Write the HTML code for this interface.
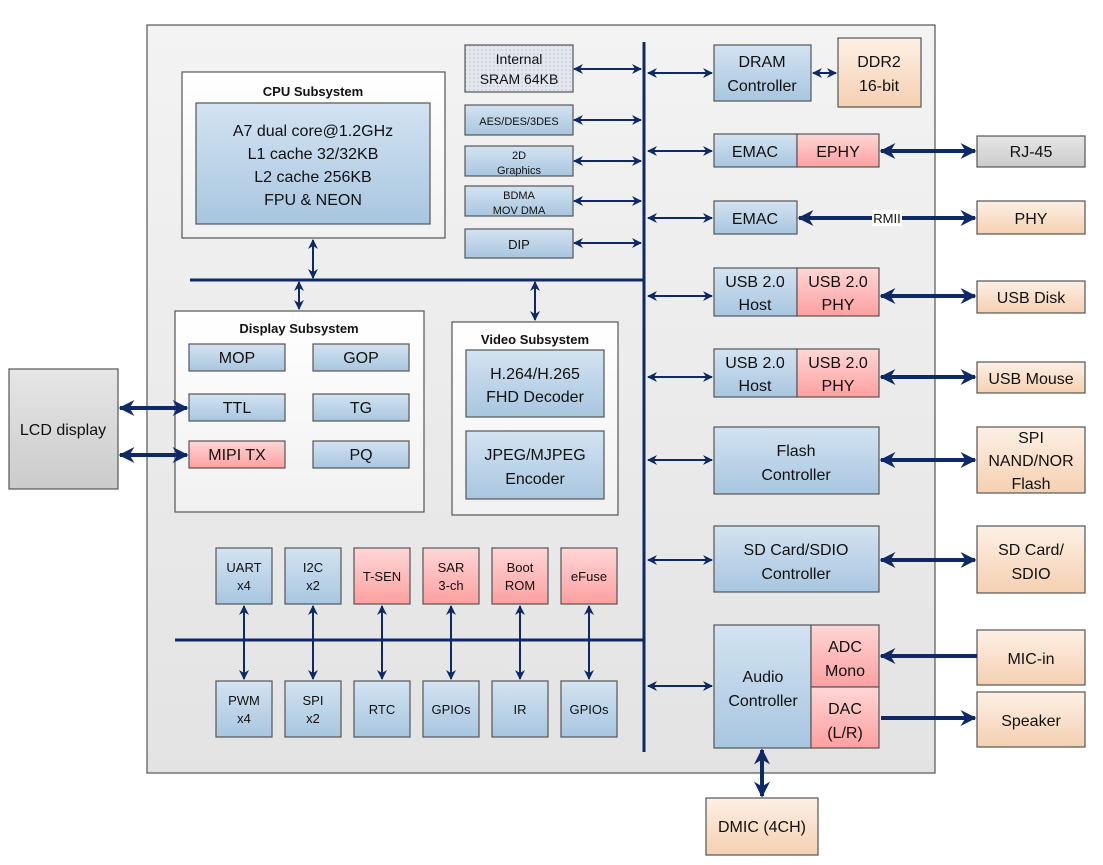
<!DOCTYPE html>
<html><head><meta charset="utf-8"><style>
html,body{margin:0;padding:0;background:#fff;}
svg{display:block;}
text{font-family:"Liberation Sans",sans-serif;fill:#111;text-anchor:middle;}
</style></head><body>
<svg width="1103" height="865" viewBox="0 0 1103 865" xmlns="http://www.w3.org/2000/svg">
<defs>
<linearGradient id="bl" x1="0" y1="0" x2="0" y2="1"><stop offset="0" stop-color="#d3e3f1"/><stop offset="1" stop-color="#a8c6e0"/></linearGradient>
<linearGradient id="pk" x1="0" y1="0" x2="0" y2="1"><stop offset="0" stop-color="#ffd6d6"/><stop offset="1" stop-color="#fda0a0"/></linearGradient>
<linearGradient id="or" x1="0" y1="0" x2="0" y2="1"><stop offset="0" stop-color="#fdf0e4"/><stop offset="1" stop-color="#f5d0b2"/></linearGradient>
<linearGradient id="gy" x1="0" y1="0" x2="0" y2="1"><stop offset="0" stop-color="#e6e6e6"/><stop offset="1" stop-color="#cbcbcb"/></linearGradient>
<linearGradient id="mb" x1="0" y1="0" x2="0" y2="1"><stop offset="0" stop-color="#f3f3f3"/><stop offset="1" stop-color="#e3e3e3"/></linearGradient>
<linearGradient id="wb" x1="0" y1="0" x2="0" y2="1"><stop offset="0" stop-color="#ffffff"/><stop offset="1" stop-color="#f1f1f1"/></linearGradient>
<pattern id="dots" width="4" height="4" patternUnits="userSpaceOnUse"><rect width="4" height="4" fill="#e4e8ee"/><circle cx="2" cy="2" r="0.8" fill="#b8c0cc"/></pattern>
<marker id="a" viewBox="0 0 10 10" refX="9" refY="5" markerWidth="5" markerHeight="5" orient="auto-start-reverse"><path d="M0,0 L10,5 L0,10 L3,5z" fill="#0e2a66"/></marker>
<marker id="A" viewBox="0 0 10 10" refX="9" refY="5" markerWidth="4" markerHeight="4" orient="auto-start-reverse"><path d="M0,0 L10,5 L0,10 L3,5z" fill="#0e2a66"/></marker>
</defs>
<g stroke="#555" stroke-width="1.2">
<rect x="147" y="25" width="788" height="748" fill="url(#mb)"/>
<rect x="182" y="72" width="263" height="166" fill="url(#wb)"/>
<rect x="196" y="103" width="234" height="121" fill="url(#bl)"/>
<rect x="175" y="311" width="249" height="201" fill="url(#wb)"/>
<rect x="189" y="344" width="96" height="27" fill="url(#bl)"/>
<rect x="313" y="344" width="96" height="27" fill="url(#bl)"/>
<rect x="189" y="394" width="96" height="27" fill="url(#bl)"/>
<rect x="313" y="394" width="96" height="27" fill="url(#bl)"/>
<rect x="189" y="441" width="96" height="27" fill="url(#pk)"/>
<rect x="313" y="441" width="96" height="27" fill="url(#bl)"/>
<rect x="452" y="322" width="166" height="193" fill="url(#wb)"/>
<rect x="466" y="350" width="138" height="67" fill="url(#bl)"/>
<rect x="466" y="431" width="138" height="68" fill="url(#bl)"/>
<rect x="465" y="45" width="108" height="47" fill="url(#dots)"/>
<rect x="465" y="105" width="108" height="30" fill="url(#bl)"/>
<rect x="465" y="146" width="108" height="30" fill="url(#bl)"/>
<rect x="465" y="186" width="108" height="30" fill="url(#bl)"/>
<rect x="465" y="229" width="108" height="29" fill="url(#bl)"/>
<rect x="714" y="45" width="97" height="56" fill="url(#bl)"/>
<rect x="838" y="38" width="83" height="69" fill="url(#or)"/>
<rect x="714" y="134" width="83" height="33" fill="url(#bl)"/>
<rect x="797" y="134" width="82" height="33" fill="url(#pk)"/>
<rect x="977" y="136" width="108" height="31" fill="url(#gy)"/>
<rect x="714" y="201" width="83" height="33" fill="url(#bl)"/>
<rect x="977" y="201" width="108" height="33" fill="url(#or)"/>
<rect x="714" y="268" width="83" height="48" fill="url(#bl)"/>
<rect x="797" y="268" width="82" height="48" fill="url(#pk)"/>
<rect x="977" y="281" width="108" height="32" fill="url(#or)"/>
<rect x="714" y="349" width="83" height="48" fill="url(#bl)"/>
<rect x="797" y="349" width="82" height="48" fill="url(#pk)"/>
<rect x="977" y="362" width="108" height="31" fill="url(#or)"/>
<rect x="714" y="427" width="165" height="67" fill="url(#bl)"/>
<rect x="977" y="427" width="108" height="66" fill="url(#or)"/>
<rect x="714" y="526" width="165" height="66" fill="url(#bl)"/>
<rect x="977" y="526" width="108" height="67" fill="url(#or)"/>
<rect x="714" y="625" width="97" height="123" fill="url(#bl)"/>
<rect x="811" y="625" width="68" height="62" fill="url(#pk)"/>
<rect x="811" y="687" width="68" height="61" fill="url(#pk)"/>
<rect x="977" y="630" width="108" height="55" fill="url(#or)"/>
<rect x="977" y="692" width="108" height="55" fill="url(#or)"/>
<rect x="706" y="798" width="112" height="57" fill="url(#or)"/>
<rect x="9" y="369" width="109" height="120" fill="url(#gy)"/>
<rect x="216" y="548" width="56" height="56" fill="url(#bl)"/>
<rect x="285" y="548" width="56" height="56" fill="url(#bl)"/>
<rect x="354" y="548" width="56" height="56" fill="url(#pk)"/>
<rect x="423" y="548" width="56" height="56" fill="url(#pk)"/>
<rect x="492" y="548" width="56" height="56" fill="url(#pk)"/>
<rect x="561" y="548" width="56" height="56" fill="url(#pk)"/>
<rect x="216" y="681" width="56" height="56" fill="url(#bl)"/>
<rect x="285" y="681" width="56" height="56" fill="url(#bl)"/>
<rect x="354" y="681" width="56" height="56" fill="url(#bl)"/>
<rect x="423" y="681" width="56" height="56" fill="url(#bl)"/>
<rect x="492" y="681" width="56" height="56" fill="url(#bl)"/>
<rect x="561" y="681" width="56" height="56" fill="url(#bl)"/>
</g>
<!-- buses -->
<g stroke="#0e2a66" stroke-width="3" fill="none">
<line x1="644" y1="42" x2="644" y2="752"/>
<line x1="190" y1="280" x2="644" y2="280"/>
<line x1="175" y1="640" x2="644" y2="640"/>
</g>
<!-- thin arrows -->
<g stroke="#0e2a66" stroke-width="2" fill="none" marker-start="url(#a)" marker-end="url(#a)">
<line x1="574" y1="69" x2="641" y2="69"/>
<line x1="574" y1="120" x2="641" y2="120"/>
<line x1="574" y1="161" x2="641" y2="161"/>
<line x1="574" y1="201" x2="641" y2="201"/>
<line x1="574" y1="243" x2="641" y2="243"/>
<line x1="648" y1="73" x2="712" y2="73"/>
<line x1="813" y1="73" x2="836" y2="73"/>
<line x1="648" y1="151" x2="712" y2="151"/>
<line x1="648" y1="218" x2="712" y2="218"/>
<line x1="648" y1="296" x2="712" y2="296"/>
<line x1="648" y1="377" x2="712" y2="377"/>
<line x1="648" y1="460" x2="712" y2="460"/>
<line x1="648" y1="560" x2="712" y2="560"/>
<line x1="648" y1="686" x2="712" y2="686"/>
<line x1="313" y1="240" x2="313" y2="278"/>
<line x1="299" y1="282" x2="299" y2="309"/>
<line x1="535" y1="282" x2="535" y2="320"/>
<line x1="244" y1="606" x2="244" y2="679"/>
<line x1="313" y1="606" x2="313" y2="679"/>
<line x1="382" y1="606" x2="382" y2="679"/>
<line x1="451" y1="606" x2="451" y2="679"/>
<line x1="520" y1="606" x2="520" y2="679"/>
<line x1="589" y1="606" x2="589" y2="679"/>
</g>
<!-- thick arrows -->
<g stroke="#0e2a66" stroke-width="4" fill="none">
<line x1="881" y1="151" x2="975" y2="151" marker-start="url(#A)" marker-end="url(#A)"/>
<line x1="799" y1="218" x2="975" y2="218" marker-start="url(#A)" marker-end="url(#A)"/>
<line x1="881" y1="296" x2="975" y2="296" marker-start="url(#A)" marker-end="url(#A)"/>
<line x1="881" y1="377" x2="975" y2="377" marker-start="url(#A)" marker-end="url(#A)"/>
<line x1="881" y1="460" x2="975" y2="460" marker-start="url(#A)" marker-end="url(#A)"/>
<line x1="881" y1="560" x2="975" y2="560" marker-start="url(#A)" marker-end="url(#A)"/>
<line x1="977" y1="656" x2="881" y2="656" marker-end="url(#A)"/>
<line x1="881" y1="718" x2="975" y2="718" marker-end="url(#A)"/>
<line x1="762" y1="750" x2="762" y2="796" marker-start="url(#A)" marker-end="url(#A)"/>
<line x1="120" y1="408" x2="187" y2="408" marker-start="url(#A)" marker-end="url(#A)"/>
<line x1="120" y1="455" x2="187" y2="455" marker-start="url(#A)" marker-end="url(#A)"/>
</g>
<rect x="872" y="210" width="30" height="16" fill="#fff"/>
<text x="887" y="223" font-size="13">RMII</text>
<!-- labels -->
<g font-size="16">
<text x="313" y="96" font-size="13" font-weight="bold">CPU Subsystem</text>
<text x="313" y="136">A7 dual core@1.2GHz</text>
<text x="313" y="159">L1 cache 32/32KB</text>
<text x="313" y="182">L2 cache 256KB</text>
<text x="313" y="205">FPU &amp; NEON</text>
<text x="299" y="333" font-size="13" font-weight="bold">Display Subsystem</text>
<text x="237" y="363">MOP</text><text x="361" y="363">GOP</text>
<text x="237" y="413">TTL</text><text x="361" y="413">TG</text>
<text x="237" y="460">MIPI TX</text><text x="361" y="460">PQ</text>
<text x="535" y="344" font-size="13" font-weight="bold">Video Subsystem</text>
<text x="535" y="379">H.264/H.265</text><text x="535" y="402">FHD Decoder</text>
<text x="535" y="460">JPEG/MJPEG</text><text x="535" y="484">Encoder</text>
<text x="519" y="64" font-size="14">Internal</text><text x="519" y="84" font-size="14">SRAM 64KB</text>
<text x="519" y="125" font-size="11">AES/DES/3DES</text>
<text x="519" y="159" font-size="11">2D</text><text x="519" y="174" font-size="11">Graphics</text>
<text x="519" y="199" font-size="11">BDMA</text><text x="519" y="214" font-size="11">MOV DMA</text>
<text x="519" y="249" font-size="13">DIP</text>
<text x="762" y="67">DRAM</text><text x="762" y="91">Controller</text>
<text x="879" y="67">DDR2</text><text x="879" y="91">16-bit</text>
<text x="755" y="157">EMAC</text><text x="838" y="157">EPHY</text>
<text x="1031" y="157">RJ-45</text>
<text x="755" y="224">EMAC</text><text x="1031" y="224">PHY</text>
<text x="755" y="287">USB 2.0</text><text x="755" y="310">Host</text>
<text x="838" y="287">USB 2.0</text><text x="838" y="310">PHY</text>
<text x="1031" y="303">USB Disk</text>
<text x="755" y="368">USB 2.0</text><text x="755" y="391">Host</text>
<text x="838" y="368">USB 2.0</text><text x="838" y="391">PHY</text>
<text x="1031" y="384">USB Mouse</text>
<text x="796" y="456">Flash</text><text x="796" y="480">Controller</text>
<text x="1031" y="443">SPI</text><text x="1031" y="466">NAND/NOR</text><text x="1031" y="489">Flash</text>
<text x="796" y="555">SD Card/SDIO</text><text x="796" y="579">Controller</text>
<text x="1031" y="555">SD Card/</text><text x="1031" y="579">SDIO</text>
<text x="763" y="682">Audio</text><text x="763" y="706">Controller</text>
<text x="845" y="652">ADC</text><text x="845" y="676">Mono</text>
<text x="845" y="714">DAC</text><text x="845" y="738">(L/R)</text>
<text x="1031" y="664">MIC-in</text><text x="1031" y="726">Speaker</text>
<text x="762" y="832">DMIC (4CH)</text>
<text x="63" y="435">LCD display</text>
</g>
<g font-size="13">
<text x="244" y="572">UART</text><text x="244" y="590">x4</text>
<text x="313" y="572">I2C</text><text x="313" y="590">x2</text>
<text x="382" y="581">T-SEN</text>
<text x="451" y="572">SAR</text><text x="451" y="590">3-ch</text>
<text x="520" y="572">Boot</text><text x="520" y="590">ROM</text>
<text x="589" y="581">eFuse</text>
<text x="244" y="705">PWM</text><text x="244" y="723">x4</text>
<text x="313" y="705">SPI</text><text x="313" y="723">x2</text>
<text x="382" y="714">RTC</text><text x="451" y="714">GPIOs</text>
<text x="520" y="714">IR</text><text x="589" y="714">GPIOs</text>
</g>
</svg>
</body></html>
